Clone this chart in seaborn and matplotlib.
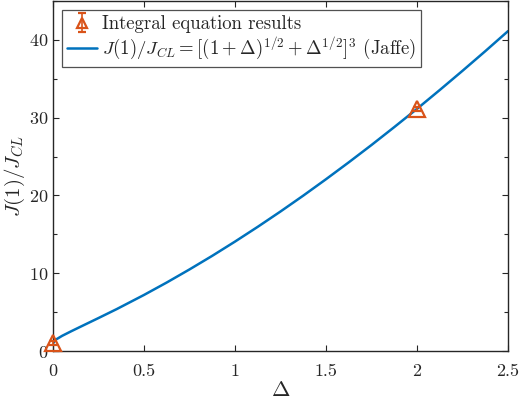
import numpy as np
import pandas as pd
import matplotlib
matplotlib.use('Agg')
import matplotlib.pyplot as plt
import seaborn as sns

# curve values
delta = [0, 0.01, 0.02, 0.05, 0.1, 0.15, 0.25, 0.35, 0.5, 0.625, 0.75, 0.875,
         1.0, 1.125, 1.25, 1.375, 1.5, 1.625, 1.75, 1.875, 2.0, 2.125, 2.25,
         2.375, 2.5]
j_ratio = [1.0, 1.35, 1.53, 1.95, 2.54, 3.11, 4.24, 5.39, 7.21, 8.81, 10.49,
           12.24, 14.07, 15.97, 17.94, 19.98, 22.09, 24.26, 26.49, 28.79,
           31.14, 33.56, 36.03, 38.55, 41.13]

# integral equation points
pt_delta = [0, 2]
pt_j = [1.0, 31.1]
pt_err = [0.25, 0.25]

sns.set_style('ticks')
plt.rcParams['font.family'] = ['cmr10', 'DejaVu Serif']
plt.rcParams['mathtext.fontset'] = 'cm'
plt.rcParams['axes.unicode_minus'] = False
plt.rcParams['axes.formatter.use_mathtext'] = True

fig = plt.figure(figsize=(5.2, 4.0), dpi=100)
ax = fig.add_axes([0.102, 0.1225, 0.875, 0.875])

df = pd.DataFrame({'d': delta, 'j': j_ratio})
eb = ax.errorbar(pt_delta, pt_j, yerr=pt_err, fmt='^', color='#D95319',
                 mfc='none', ms=12, mew=1.6, capsize=3, elinewidth=1.2,
                 label='Integral equation results', zorder=3)
eb[0].set_clip_on(False)
for art in list(eb[1]) + list(eb[2]):
    art.set_clip_on(False)
sns.lineplot(data=df, x='d', y='j', color='#0072BD', lw=1.8, ax=ax,
             label=r'$J(1)/J_{CL} = [(1+\Delta)^{1/2} + \Delta^{1/2}]^3$ (Jaffe)')

ax.set_xlim(0, 2.5)
ax.set_ylim(0, 45)
ax.set_xticks([0, 0.5, 1, 1.5, 2, 2.5])
ax.set_xticklabels(['0', '0.5', '1', '1.5', '2', '2.5'])
ax.set_yticks([0, 10, 20, 30, 40])
ax.set_yticks([5, 15, 25, 35, 45], minor=True)
ax.tick_params(direction='in', top=True, right=True, labelsize=13,
               length=4, width=0.8, colors='#262626')
ax.tick_params(axis='x', pad=9)
ax.tick_params(which='minor', direction='in', right=True, length=3, width=0.8)
for s in ax.spines.values():
    s.set_linewidth(1.0)
    s.set_color('#262626')
ax.set_xlabel(r'$\Delta$', fontsize=16, labelpad=1)
ax.set_ylabel(r'$J(1)/J_{CL}$', fontsize=15, labelpad=1)

handles, labels = ax.get_legend_handles_labels()
order = [labels.index('Integral equation results'), 1 - labels.index('Integral equation results')]
leg = ax.legend([handles[i] for i in order], [labels[i] for i in order],
                loc='upper left', fontsize=13.5, frameon=True, fancybox=False,
                edgecolor='#262626', borderpad=0.25, handlelength=1.6,
                handletextpad=0.25, labelspacing=0.15, borderaxespad=0.5,
                markerscale=0.55)
leg.get_frame().set_linewidth(0.9)

fig.savefig('out.png', dpi=100)
